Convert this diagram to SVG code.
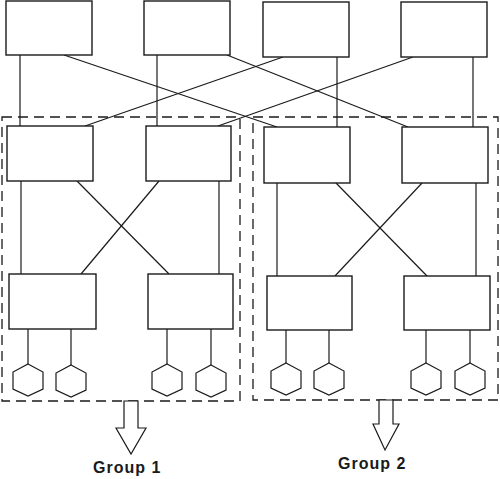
<svg xmlns="http://www.w3.org/2000/svg" width="500" height="479" viewBox="0 0 500 479">
<style>
.box{fill:#fff;stroke:#1a1a1a;stroke-width:1.4}
.ln{stroke:#1a1a1a;stroke-width:1.2;fill:none}
.grp{fill:none;stroke:#1a1a1a;stroke-width:1.3;stroke-dasharray:10,6}
.hex{fill:#fff;stroke:#1a1a1a;stroke-width:1.2}
.arr{fill:#fff;stroke:#1a1a1a;stroke-width:1.2}
.lbl{font-family:"Liberation Sans",Arial,sans-serif;font-weight:bold;font-size:16px;fill:#1a1a1a;letter-spacing:1px}
</style>
<defs>
<polygon id="hx" points="0,0 15,8 15,25 0,32 -15,25 -15,8"/>
</defs>
<g id="groups">
<rect id="group1" class="grp" x="2" y="117" width="238" height="284"/>
<rect id="group2" class="grp" x="253" y="117" width="245" height="283"/>
</g>
<g id="connectors">
<line class="ln" x1="20" y1="55" x2="20" y2="126"/>
<line class="ln" x1="157" y1="55" x2="157" y2="126"/>
<line class="ln" x1="337" y1="57" x2="337" y2="127"/>
<line class="ln" x1="473" y1="57" x2="473" y2="127"/>
<line class="ln" x1="64" y1="55" x2="277" y2="127"/>
<line class="ln" x1="227" y1="55" x2="408" y2="127"/>
<line class="ln" x1="283" y1="57" x2="85" y2="126"/>
<line class="ln" x1="413" y1="57" x2="218" y2="126"/>
<line class="ln" x1="21" y1="181" x2="21" y2="274"/>
<line class="ln" x1="219" y1="181" x2="219" y2="274"/>
<line class="ln" x1="77" y1="181" x2="169" y2="274"/>
<line class="ln" x1="159" y1="181" x2="81" y2="274"/>
<line class="ln" x1="277" y1="183" x2="277" y2="276"/>
<line class="ln" x1="476" y1="183" x2="476" y2="276"/>
<line class="ln" x1="336" y1="183" x2="427" y2="276"/>
<line class="ln" x1="422" y1="183" x2="335" y2="276"/>
<line class="ln" x1="28" y1="329" x2="28" y2="364"/>
<line class="ln" x1="71" y1="329" x2="71" y2="365"/>
<line class="ln" x1="167" y1="329" x2="167" y2="364"/>
<line class="ln" x1="211" y1="329" x2="211" y2="365"/>
<line class="ln" x1="286" y1="330" x2="286" y2="363"/>
<line class="ln" x1="329" y1="330" x2="329" y2="363"/>
<line class="ln" x1="426" y1="330" x2="426" y2="363"/>
<line class="ln" x1="470" y1="330" x2="470" y2="363"/>
</g>
<g id="top1"><rect class="box" x="6" y="1" width="86" height="54"/></g>
<g id="top2"><rect class="box" x="144" y="1" width="86" height="54"/></g>
<g id="top3"><rect class="box" x="263" y="2" width="86" height="55"/></g>
<g id="top4"><rect class="box" x="401" y="2" width="86" height="55"/></g>
<g id="mid1"><rect class="box" x="7" y="126" width="86" height="55"/></g>
<g id="mid2"><rect class="box" x="146" y="126" width="85" height="55"/></g>
<g id="mid3"><rect class="box" x="264" y="127" width="86" height="56"/></g>
<g id="mid4"><rect class="box" x="402" y="127" width="86" height="56"/></g>
<g id="low1"><rect class="box" x="9" y="274" width="87" height="55"/></g>
<g id="low2"><rect class="box" x="148" y="274" width="85" height="55"/></g>
<g id="low3"><rect class="box" x="267" y="276" width="85" height="54"/></g>
<g id="low4"><rect class="box" x="404" y="276" width="86" height="54"/></g>
<g id="hex1"><use href="#hx" class="hex" x="28" y="364"/></g>
<g id="hex2"><use href="#hx" class="hex" x="71" y="365"/></g>
<g id="hex3"><use href="#hx" class="hex" x="167" y="364"/></g>
<g id="hex4"><use href="#hx" class="hex" x="211" y="365"/></g>
<g id="hex5"><use href="#hx" class="hex" x="286" y="363"/></g>
<g id="hex6"><use href="#hx" class="hex" x="329" y="363"/></g>
<g id="hex7"><use href="#hx" class="hex" x="426" y="363"/></g>
<g id="hex8"><use href="#hx" class="hex" x="470" y="363"/></g>
<g id="arrow1"><polygon class="arr" points="124,401 138,401 138,428 146,428 131,454 116,428 124,428"/></g>
<g id="arrow2"><polygon class="arr" points="379,400 393,400 393,424 399,424 385,450 373,424 379,424"/></g>
<g id="label1"><text class="lbl" x="93" y="473">Group 1</text></g>
<g id="label2"><text class="lbl" x="338" y="469">Group 2</text></g>
</svg>
